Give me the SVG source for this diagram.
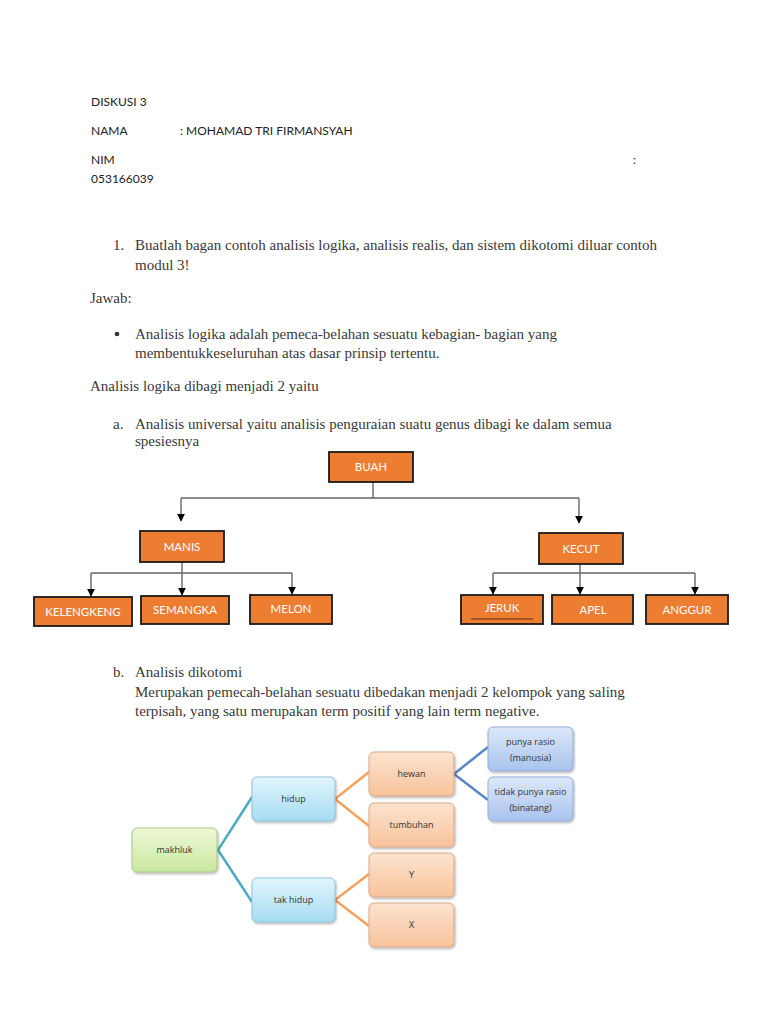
<svg xmlns="http://www.w3.org/2000/svg" width="768" height="1024" viewBox="0 0 768 1024">
<style>
.hd{font-family:Lato,"Liberation Sans",sans-serif;font-size:12px;fill:#222}
.tx{font-family:"Liberation Serif",serif;font-size:15px;fill:#3a3a3a}
.ob{fill:#ED7D31;stroke:#1a1a1a;stroke-width:1.8}
.ot{font-family:Lato,"Liberation Sans",sans-serif;font-size:11.5px;fill:#fff;text-anchor:middle}
.ln{stroke:#666;stroke-width:1.4;fill:none}
.st{font-family:"Open Sans","Liberation Sans",sans-serif;font-size:9px;fill:#333;text-anchor:middle}
.sb{stroke-width:1;filter:url(#sh)}
</style>
<defs>
<marker id="ar" viewBox="0 0 10 10" refX="9" refY="5" markerWidth="8" markerHeight="8" markerUnits="userSpaceOnUse" orient="auto"><path d="M0,0L10,5L0,10z" fill="#000"/></marker>
<linearGradient id="gg" x1="0" y1="0" x2="0" y2="1"><stop offset="0" stop-color="#EEF9D6"/><stop offset="1" stop-color="#C9E79F"/></linearGradient>
<linearGradient id="gc" x1="0" y1="0" x2="0" y2="1"><stop offset="0" stop-color="#E2F5FC"/><stop offset="1" stop-color="#A6DCF2"/></linearGradient>
<linearGradient id="go" x1="0" y1="0" x2="0" y2="1"><stop offset="0" stop-color="#FCE3CF"/><stop offset="1" stop-color="#F8C39B"/></linearGradient>
<linearGradient id="gb" x1="0" y1="0" x2="0" y2="1"><stop offset="0" stop-color="#DDE8F9"/><stop offset="1" stop-color="#A8C3EE"/></linearGradient>
<filter id="sh" x="-10%" y="-10%" width="130%" height="140%"><feDropShadow dx="1" dy="1.5" stdDeviation="1" flood-color="#000" flood-opacity="0.3"/></filter>
</defs>
<rect width="768" height="1024" fill="#fff"/>

<g id="header">
<text class="hd" x="91" y="106">DISKUSI 3</text>
<text class="hd" x="91" y="135">NAMA</text>
<text class="hd" x="180" y="135">: MOHAMAD TRI FIRMANSYAH</text>
<text class="hd" x="91" y="164">NIM</text>
<text class="hd" x="633" y="164">:</text>
<text class="hd" x="91" y="183">053166039</text>
</g>

<g id="body">
<text class="tx" x="113" y="250">1.</text>
<text class="tx" x="135" y="250">Buatlah bagan contoh analisis logika, analisis realis, dan sistem dikotomi diluar contoh</text>
<text class="tx" x="135" y="270">modul 3!</text>
<text class="tx" x="90" y="303">Jawab:</text>
<circle cx="117" cy="334" r="2.3" fill="#333"/>
<text class="tx" x="135" y="339">Analisis logika adalah pemeca-belahan sesuatu kebagian- bagian yang</text>
<text class="tx" x="135" y="358">membentukkeseluruhan atas dasar prinsip tertentu.</text>
<text class="tx" x="90" y="391">Analisis logika dibagi menjadi 2 yaitu</text>
<text class="tx" x="113" y="429">a.</text>
<text class="tx" x="135" y="429">Analisis universal yaitu analisis penguraian suatu genus dibagi ke dalam semua</text>
<text class="tx" x="135" y="446">spesiesnya</text>
<text class="tx" x="113" y="677">b.</text>
<text class="tx" x="135" y="677">Analisis dikotomi</text>
<text class="tx" x="135" y="697">Merupakan pemecah-belahan sesuatu dibedakan menjadi 2 kelompok yang saling</text>
<text class="tx" x="135" y="716">terpisah, yang satu merupakan term positif yang lain term negative.</text>
</g>

<g id="connectors">
<path class="ln" d="M373,482V498M181,498H579"/>
<path class="ln" d="M181,498V521" marker-end="url(#ar)"/>
<path class="ln" d="M579,498V523" marker-end="url(#ar)"/>
<path class="ln" d="M182,562V573M91,573H292"/>
<path class="ln" d="M91,573V596" marker-end="url(#ar)"/>
<path class="ln" d="M182,573V595" marker-end="url(#ar)"/>
<path class="ln" d="M292,573V594" marker-end="url(#ar)"/>
<path class="ln" d="M580,564V573M493,573H695"/>
<path class="ln" d="M493,573V594" marker-end="url(#ar)"/>
<path class="ln" d="M580,573V594" marker-end="url(#ar)"/>
<path class="ln" d="M695,573V594" marker-end="url(#ar)"/>
<path d="M252,797L218,850L252,902" fill="none" stroke="#4BACC6" stroke-width="2.5"/>
<path d="M369,772L335,799L369,826" fill="none" stroke="#F6A15E" stroke-width="2.5"/>
<path d="M369,874L335,900L369,926" fill="none" stroke="#F6A15E" stroke-width="2.5"/>
<path d="M488,747L454,774L488,800" fill="none" stroke="#5B86C4" stroke-width="2.5"/>
</g>

<g id="buah"><rect class="ob" x="329" y="452" width="84" height="30"/><text class="ot" x="371" y="471">BUAH</text></g>
<g id="manis"><rect class="ob" x="140" y="531" width="84" height="31"/><text class="ot" x="182" y="551">MANIS</text></g>
<g id="kecut"><rect class="ob" x="539" y="533" width="84" height="31"/><text class="ot" x="581" y="553">KECUT</text></g>
<g id="kelengkeng"><rect class="ob" x="34" y="597" width="98" height="29"/><text class="ot" x="83" y="616">KELENGKENG</text></g>
<g id="semangka"><rect class="ob" x="141" y="596" width="88" height="28"/><text class="ot" x="185" y="614">SEMANGKA</text></g>
<g id="melon"><rect class="ob" x="250" y="595" width="82" height="29"/><text class="ot" x="291" y="613">MELON</text></g>
<g id="jeruk"><rect class="ob" x="461" y="595" width="82" height="29"/><text class="ot" x="502" y="612">JERUK</text><line x1="471" y1="619" x2="533" y2="619" stroke="#5a2a10" stroke-width="1.2"/></g>
<g id="apel"><rect class="ob" x="552" y="595" width="81" height="29"/><text class="ot" x="593" y="614">APEL</text></g>
<g id="anggur"><rect class="ob" x="646" y="595" width="82" height="29"/><text class="ot" x="687" y="614">ANGGUR</text></g>

<g id="makhluk"><rect class="sb" x="132" y="828" width="85" height="44" rx="5" fill="url(#gg)" stroke="#A8C98A"/><text class="st" x="174.5" y="853">makhluk</text></g>
<g id="hidup"><rect class="sb" x="252" y="777" width="83" height="44" rx="5" fill="url(#gc)" stroke="#8CC3DA"/><text class="st" x="293.5" y="802">hidup</text></g>
<g id="takhidup"><rect class="sb" x="252" y="878" width="83" height="44" rx="5" fill="url(#gc)" stroke="#8CC3DA"/><text class="st" x="293.5" y="903">tak hidup</text></g>
<g id="hewan"><rect class="sb" x="369" y="752" width="85" height="44" rx="5" fill="url(#go)" stroke="#D9A98A"/><text class="st" x="411.5" y="777">hewan</text></g>
<g id="tumbuhan"><rect class="sb" x="369" y="803" width="85" height="44" rx="5" fill="url(#go)" stroke="#D9A98A"/><text class="st" x="411.5" y="828">tumbuhan</text></g>
<g id="y"><rect class="sb" x="369" y="853" width="85" height="44" rx="5" fill="url(#go)" stroke="#D9A98A"/><text class="st" x="411.5" y="878">Y</text></g>
<g id="x"><rect class="sb" x="369" y="903" width="85" height="44" rx="5" fill="url(#go)" stroke="#D9A98A"/><text class="st" x="411.5" y="928">X</text></g>
<g id="punyarasio"><rect class="sb" x="488" y="727" width="85" height="44" rx="5" fill="url(#gb)" stroke="#94AED6"/><text class="st" x="530.5" y="745">punya rasio</text><text class="st" x="530.5" y="761">(manusia)</text></g>
<g id="tidakpunyarasio"><rect class="sb" x="488" y="777" width="85" height="44" rx="5" fill="url(#gb)" stroke="#94AED6"/><text class="st" x="530.5" y="795">tidak punya rasio</text><text class="st" x="530.5" y="811">(binatang)</text></g>
</svg>
